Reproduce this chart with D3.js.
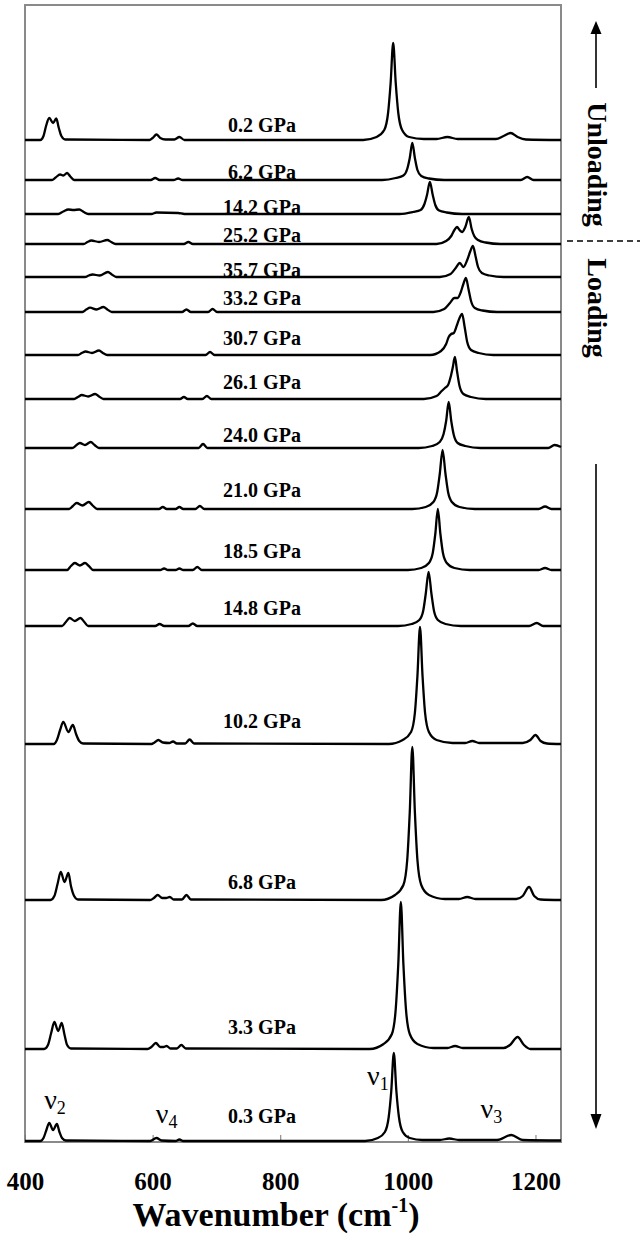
<!DOCTYPE html>
<html>
<head>
<meta charset="utf-8">
<script src="https://cdn.jsdelivr.net/npm/d3@7"></script>
<style>
  body { margin: 0; background: #fff; }
  text { font-family: "Liberation Serif", "Times New Roman", serif; }
</style>
</head>
<body>
<script>
// Raman spectra, [wavenumber cm-1, intensity above the trace's own baseline]
let unload02 = [[400,0],[424,0],[429,4],[433,14],[438,22],[444,17],[449,21.5],[453,12],[457,4],[463,0.5],[595,0],[600,2],[606,5.5],[612,2],[620,0.5],[634,0.5],[642,3],[650,0],[930,0],[951,3],[963,10],[969,27],[973,57],[977,97],[981,57],[985,27],[991,10],[1002,3],[1025,1],[1045,1],[1062,3],[1078,1],[1138,1],[1150,4],[1161,7],[1172,3],[1185,0.5],[1240,0]];
let unload62 = [[400,0],[442,0],[448,2.5],[455,5.5],[460,4.5],[466,7],[471,3.5],[477,0],[597,0],[604,2],[611,0],[633,0],[640,1.5],[647,0],[960,0],[981,2],[993,4.5],[999,11],[1003,22],[1007,37],[1011,22],[1015,10],[1021,4],[1033,1.5],[1057,0],[1177,0],[1187,3],[1197,0],[1240,0]];
let unload142 = [[400,0],[452,0],[460,2.5],[468,4.5],[476,4],[485,4.5],[492,2],[499,0],[598,0],[606,1.5],[640,1],[650,0],[987,0],[1008,2],[1020,4],[1026,10],[1030,19],[1034.5,32],[1039,19],[1043,9],[1049,3.5],[1061,1.5],[1085,0],[1240,0]];
let unload252 = [[400,0],[492,0],[498,2],[504,3.5],[516,2],[529,4],[535,2],[542,0],[649,0],[656,2],[663,0],[1045,0],[1060,3],[1068,8],[1073,14],[1077,17],[1081,14],[1085,12],[1090,17],[1095.6,27],[1100,15],[1104,8],[1110,4],[1122,1.5],[1145,0],[1240,0]];
let load357 = [[400,0],[494,0],[500,1.5],[506,2.5],[517,1.5],[530,5],[536,2.5],[543,0],[1050,0],[1067,3],[1075,9],[1081.5,14],[1087,10],[1093,17],[1098,26],[1102,31],[1106,21],[1110,10],[1116,4],[1128,1.5],[1150,0],[1240,0]];
let load332 = [[400,0],[490,0],[496,2.5],[502,4.3],[512,2.5],[523,5],[529,2.5],[536,0],[646,0],[653,2.5],[660,0],[687,0],[694,3],[701,0],[1040,0],[1057,3],[1066,9],[1073,14],[1078,14],[1083,20],[1087,28],[1091,34],[1095,23],[1099,11],[1105,4],[1117,1.5],[1140,0],[1240,0]];
let load307 = [[400,0],[483,0],[489,2],[495,3.5],[505,2],[516,4.5],[522,2],[529,0],[683,0],[690,3],[697,0],[1035,0],[1052,4],[1060,11],[1064,18],[1068,21],[1072,22],[1077,30],[1081,37],[1085,41],[1089,28],[1093,13],[1099,5],[1111,2],[1134,0],[1240,0]];
let load261 = [[400,0],[477,0],[483,2],[489,4],[499,2.5],[510,5],[516,2.5],[523,0],[643,0],[649,2],[655,0],[678,0],[685,3],[692,0],[1025,0],[1045,3],[1053,8],[1058,11],[1063,14],[1067,22],[1070.5,32],[1073.7,42],[1077,28],[1081,13],[1087,5],[1099,2],[1122,0],[1240,0]];
let load240 = [[400,0],[474,0],[480,2.5],[486,5],[494,3],[503,6],[509,3],[516,0],[672,0],[679,4],[686,0],[1017,0],[1038,2],[1050,6],[1056,14],[1060,27],[1064,46],[1068,27],[1072,13],[1078,5],[1090,2],[1114,0],[1220,0],[1230,3],[1240,1]];
let load210 = [[400,0],[469,0],[475,3],[481,6],[490,3.5],[500,7],[506,3.5],[513,0],[610,0],[616,2],[622,0],[636,0],[642,2],[648,0],[667,0],[674,3],[681,0],[1007,0],[1028,2],[1040,7],[1046,17],[1050,35],[1054.4,59],[1059,35],[1063,17],[1069,7],[1081,2],[1105,0],[1205,0],[1215,2.5],[1225,0],[1240,0]];
let load185 = [[400,0],[466,0],[472,4],[478,7],[486,4.5],[494,7],[500,4],[507,0],[612,0],[618,1.5],[624,0],[636,0],[642,1.5],[648,0],[663,0],[670,3],[677,0],[1000,0],[1021,2],[1033,7],[1039,17],[1043,36],[1047,61],[1051,36],[1055,17],[1061,7],[1073,2],[1097,0],[1205,0],[1215,2],[1225,0],[1240,0]];
let load148 = [[400,0],[458,0],[464,4],[470,8],[478,5],[487,8],[493,4],[499,0],[604,0],[611,2],[618,0],[656,0],[663,2.5],[670,0],[985,0],[1006,2],[1018,6],[1024,15],[1028,32],[1032.5,54],[1037,32],[1041,15],[1047,6],[1059,2],[1083,0],[1190,0],[1202,3],[1212,0],[1240,0]];
let load102 = [[400,0],[445,0],[450,4],[455,14],[460,22],[468,12],[475,19],[480,10],[485,3],[491,0.5],[598,0],[603,1.5],[609,4],[616,1.5],[626,1],[632,2.5],[638,0.5],[651,0.5],[658,4.5],[665,0.5],[970,0],[992,4],[1005,12],[1011,31],[1015,68],[1019,117],[1023,68],[1027,31],[1033,12],[1045,4],[1070,1],[1090,1],[1101,3],[1112,1],[1180,1],[1192,4],[1200,9],[1208,3],[1218,0.5],[1240,0]];
let load68 = [[400,0],[440,0],[446,4],[451,16],[456,28],[462,18],[468,27],[472,14],[477,4],[483,0.5],[596,0],[602,2],[608,5],[615,2],[621,2],[627,3],[633,0.5],[646,0.5],[653,5],[660,0.5],[958,0],[980,5],[993,15],[999,40],[1003,88],[1007,153],[1011,88],[1015,40],[1021,15],[1033,5],[1058,1],[1080,1],[1093,3],[1106,1],[1170,1],[1180,4],[1190,13],[1198,4],[1208,0.5],[1240,0]];
let load33 = [[400,0],[430,0],[436,4],[441,16],[446,27],[452,18],[457.5,26],[462,14],[466,4],[472,0.5],[592,0],[598,2],[605,6],[612,2],[617,2],[622,3],[628,0.5],[638,0.5],[645,4],[652,0.5],[940,0],[962,5],[975,15],[981,40],[985,85],[989,147],[993,85],[997,40],[1003,15],[1015,5],[1040,1],[1062,1],[1074,3],[1086,1],[1150,1],[1160,4],[1172,12],[1182,4],[1192,0],[1240,0]];
let load03 = [[400,0],[424,0],[429,3],[433,10],[438,18],[444,11],[450,17],[454,9],[458,3],[464,0.5],[596,0],[606,3],[614,0.5],[636,0],[642,1.5],[648,0],[933,0],[953,3],[964,9],[970,24],[974,50],[978,88],[982,50],[986,24],[992,9],[1003,3],[1023,1],[1050,1],[1065,2.5],[1080,1],[1140,1],[1162,6],[1180,1],[1240,0.5]];

// top to bottom as stacked in the figure
let spectra = [unload02, unload62, unload142, unload252, load357, load332, load307, load261, load240, load210, load185, load148, load102, load68, load33, load03];
let pressures = ["0.2 GPa","6.2 GPa","14.2 GPa","25.2 GPa","35.7 GPa","33.2 GPa","30.7 GPa","26.1 GPa","24.0 GPa","21.0 GPa","18.5 GPa","14.8 GPa","10.2 GPa","6.8 GPa","3.3 GPa","0.3 GPa"];
let offsets = [1002, 962, 928, 898, 865, 830, 787, 743, 694, 633, 572, 516, 398, 242, 93, 1];
let xTicks = [400, 600, 800, 1000, 1200];
let modeNames = ["2", "4", "1", "3"];

// layout only
let labelGap = [8, 1, 0, 2, 0, 7, 10, 10, 6, 12, 12, 11, 16, 11, 15, 18];
let modePos = [[430, 33], [605, 19], [936, 57], [1114, 24]];

let w = 640, h = 1242;
let plotLeft = 25, plotRight = 561, plotTop = 5, plotBottom = 1142;
let serif = '"Liberation Serif", "Times New Roman", serif';

let svg = d3.select("body").append("svg").attr("width", w).attr("height", h);

let x = d3.scaleLinear().domain([400, 1240]).range([plotLeft, plotRight]);
let y = d3.scaleLinear().domain([0, plotBottom - plotTop]).range([plotBottom, plotTop]);

svg.append("rect")
	.attr("x", plotLeft).attr("y", plotTop)
	.attr("width", plotRight - plotLeft).attr("height", plotBottom - plotTop)
	.attr("fill", "none")
	.attr("stroke", "#8a8a8a")
	.attr("stroke-width", 2);

let axis = svg.append("g")
	.attr("transform", "translate(0," + plotBottom + ")")
	.call(d3.axisBottom(x).tickValues(xTicks).tickSize(-7).tickSizeOuter(0).tickPadding(30).tickFormat(d3.format("d")));
axis.select(".domain").remove();
axis.selectAll(".tick line").attr("stroke", "#777").attr("stroke-width", 1);
axis.selectAll(".tick text")
	.attr("font-family", serif)
	.attr("font-size", "25px")
	.attr("font-weight", "bold")
	.attr("fill", "#000");

spectra.forEach(function(s, i) {
	let line = d3.line()
		.x(function(d) { return x(d[0]); })
		.y(function(d) { return y(d[1] + offsets[i]); })
		.curve(d3.curveMonotoneX);
	svg.append("path")
		.datum(s)
		.attr("d", line)
		.attr("fill", "none")
		.attr("stroke", "#000")
		.attr("stroke-width", 2.3)
		.attr("stroke-linejoin", "round");
});

svg.selectAll("text.plabel")
	.data(pressures)
	.enter()
	.append("text")
	.attr("class", "plabel")
	.text(function(d) { return d; })
	.attr("x", 262)
	.attr("y", function(d, i) { return y(offsets[i]) - labelGap[i]; })
	.attr("text-anchor", "middle")
	.attr("font-family", serif)
	.attr("font-size", "20px")
	.attr("font-weight", "bold");

let modes = svg.selectAll("text.mode")
	.data(modeNames)
	.enter()
	.append("text")
	.attr("class", "mode")
	.attr("x", function(d, i) { return x(modePos[i][0]); })
	.attr("y", function(d, i) { return y(modePos[i][1]); })
	.attr("font-family", serif)
	.attr("font-size", "28px");
modes.append("tspan").text("ν");
modes.append("tspan").attr("font-size", "18px").attr("dy", 5).text(function(d) { return d; });

let title = svg.append("text")
	.attr("x", 276).attr("y", 1226)
	.attr("text-anchor", "middle")
	.attr("font-family", serif)
	.attr("font-size", "34px")
	.attr("font-weight", "bold");
title.append("tspan").text("Wavenumber (cm");
title.append("tspan").attr("font-size", "20px").attr("dy", -14).text("-1");
title.append("tspan").attr("dy", 14).text(")");

// loading / unloading marks on the right
let ax = 596;
svg.append("line").attr("x1", ax).attr("x2", ax).attr("y1", 88).attr("y2", 32)
	.attr("stroke", "#000").attr("stroke-width", 1.6);
svg.append("path").attr("d", "M" + ax + ",21L" + (ax - 5.5) + ",34L" + (ax + 5.5) + ",34Z").attr("fill", "#000");
svg.append("line").attr("x1", ax).attr("x2", ax).attr("y1", 464).attr("y2", 1116)
	.attr("stroke", "#000").attr("stroke-width", 1.6);
svg.append("path").attr("d", "M" + ax + ",1129L" + (ax - 5.5) + ",1114L" + (ax + 5.5) + ",1114Z").attr("fill", "#000");
svg.append("line").attr("x1", 567).attr("x2", 640).attr("y1", 241).attr("y2", 241)
	.attr("stroke", "#000").attr("stroke-width", 1.5).attr("stroke-dasharray", "6,4");

[["Unloading", 164.5], ["Loading", 308]].forEach(function(t) {
	svg.append("text")
		.text(t[0])
		.attr("transform", "translate(588," + t[1] + ") rotate(90)")
		.attr("text-anchor", "middle")
		.attr("font-family", serif)
		.attr("font-size", "28px")
		.attr("font-weight", "bold");
});
</script>
</body>
</html>
